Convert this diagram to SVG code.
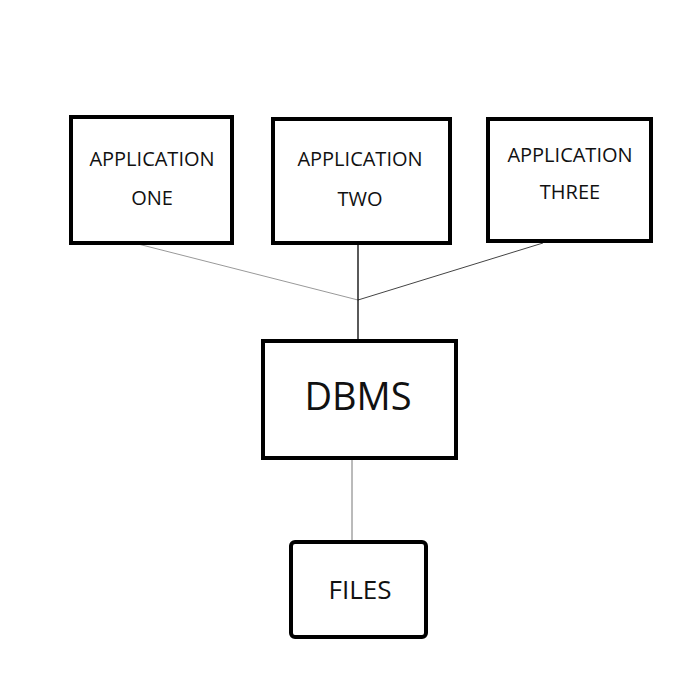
<svg xmlns="http://www.w3.org/2000/svg" width="700" height="700" viewBox="0 0 700 700">
<style>
.box{fill:#fff;stroke:#000;stroke-width:4}
.t{font-family:"Open Sans","Noto Sans",sans-serif;fill:#111;text-anchor:middle}
</style>
<rect width="700" height="700" fill="#fff"/>
<g id="connectors" fill="none">
<line x1="138" y1="244" x2="358" y2="300" stroke="#999" stroke-width="1"/>
<line x1="543" y1="243" x2="358" y2="300" stroke="#444" stroke-width="1"/>
<line x1="358" y1="245" x2="358" y2="340" stroke="#000" stroke-width="1.3"/>
<line x1="352" y1="460" x2="352" y2="541" stroke="#777" stroke-width="1"/>
</g>
<g id="app1"><rect class="box" x="71" y="117" width="161" height="126"/>
<text class="t" x="152" y="166" font-size="20">APPLICATION</text><text class="t" x="152" y="205" font-size="20">ONE</text></g>
<g id="app2"><rect class="box" x="273" y="119" width="177" height="124"/>
<text class="t" x="360" y="166" font-size="20">APPLICATION</text><text class="t" x="360" y="206" font-size="20">TWO</text></g>
<g id="app3"><rect class="box" x="488" y="119" width="163" height="122"/>
<text class="t" x="570" y="162" font-size="20">APPLICATION</text><text class="t" x="570" y="199" font-size="20">THREE</text></g>
<g id="dbms"><rect class="box" x="263" y="341" width="193" height="117"/>
<text class="t" x="358" y="410" font-size="38">DBMS</text></g>
<g id="files"><rect class="box" x="291" y="542" width="135" height="95" rx="4"/>
<text class="t" x="360" y="599" font-size="26">FILES</text></g>
</svg>
